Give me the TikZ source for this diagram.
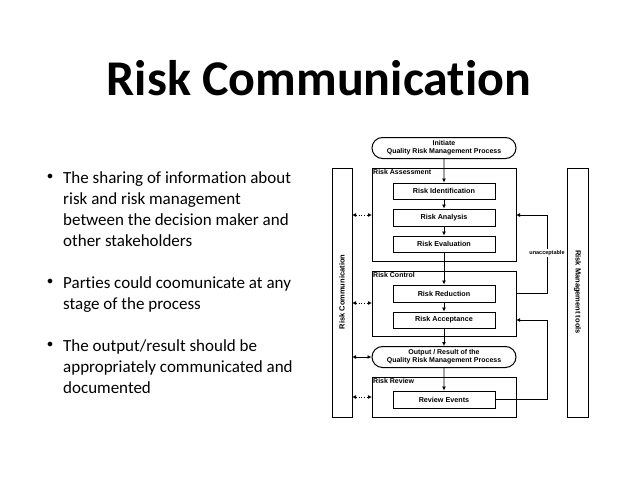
\documentclass[tikz,border=0pt]{standalone}
\usepackage{fontspec}
\setmainfont[Ligatures=NoCommon,RawFeature=-liga]{Carlito}
\newfontfamily\arialf{Liberation Sans}
\usetikzlibrary{arrows.meta,shapes.misc}
\begin{document}
\begin{tikzpicture}[x=1pt,y=-1pt,
  bx/.style={draw,line width=0.9pt},
  inbox/.style={draw,line width=0.9pt,minimum width=102pt,inner sep=0pt,font=\arialf\bfseries\fontsize{7.2}{8}\selectfont},
  term/.style={draw,line width=1pt,rounded rectangle,minimum width=144pt,minimum height=21pt,inner sep=0pt,align=center,font=\arialf\bfseries\fontsize{7}{8}\selectfont},
  lbl/.style={anchor=north west,inner sep=1pt,font=\arialf\bfseries\fontsize{7}{8}\selectfont},
  ar/.style={-{Latex[length=4pt,width=4pt]},line width=0.9pt},
  dar/.style={{Latex[length=4pt,width=4pt]}-{Latex[length=4pt,width=4pt]},line width=0.9pt,dotted},
  sar/.style={{Latex[length=4pt,width=4pt]}-{Latex[length=4pt,width=4pt]},line width=0.9pt},
  bul/.style={anchor=north west,align=left,font=\fontsize{17}{21}\selectfont,inner sep=0pt}]
\useasboundingbox (0,0) rectangle (638,479);
\node (title) at (319,78) {\fontsize{50}{56}\selectfont\bfseries Risk Communication};
\foreach \y/\t in {171/{The sharing of information about\\risk and risk management\\between the decision maker and\\other stakeholders},
  276/{Parties could coomunicate at any\\stage of the process},
  339/{The output/result should be\\appropriately communicated and\\documented}}{
  \node[anchor=north west,inner sep=0pt,font=\fontsize{12}{21}\selectfont] at (47,\y+3) {$\bullet$};
  \node[bul] at (63,\y) {\t};
}
% bars
\draw[bx] (332,168) rectangle (352,417);
\node[rotate=90,font=\arialf\bfseries\fontsize{7.5}{8}\selectfont] (rc) at (342,292) {Risk Communication};
\draw[bx] (567,168) rectangle (588,417);
\node[rotate=-90,font=\arialf\bfseries\fontsize{7.5}{8}\selectfont] (rm) at (577.5,292) {Risk Management tools};
% terminals
\node[term] (init) at (444,148) {Initiate\\Quality Risk Management Process};
\node[term] (out) at (444,357) {Output / Result of the\\Quality Risk Management Process};
% group boxes
\draw[bx] (372,168) rectangle (516,261);
\node[lbl] at (372,168) {Risk Assessment};
\draw[bx] (372,271) rectangle (516,336);
\node[lbl] at (372,271) {Risk Control};
\draw[bx] (372,377) rectangle (516,417);
\node[lbl] at (372,377) {Risk Review};
\coordinate (asr) at (516,215);
\coordinate (csr) at (516,320);
\coordinate (asl) at (372,215);
\coordinate (csl) at (372,303);
\coordinate (rsl) at (372,397);
\coordinate (bl1) at (352,215);
\coordinate (bl2) at (352,303);
\coordinate (bl3) at (352,357);
\coordinate (bl4) at (352,397);
% inner boxes
\node[inbox,minimum height=16pt] (ri) at (444,191) {Risk Identification};
\node[inbox,minimum height=17pt] (ra) at (444,217.5) {Risk Analysis};
\node[inbox,minimum height=16pt] (re) at (444,244) {Risk Evaluation};
\node[inbox,minimum height=17pt] (rr) at (444,293.5) {Risk Reduction};
\node[inbox,minimum height=16pt] (rac) at (444,320) {Risk Acceptance};
\node[inbox,minimum height=17pt] (rev) at (444,399.5) {Review Events};
% flow
\draw[ar] (init) -- (ri);
\draw[ar] (ri) -- (ra);
\draw[ar] (ra) -- (re);
\draw[ar] (re) -- (rr);
\draw[ar] (rr) -- (rac);
\draw[ar] (rac) -- (out);
\draw[ar] (out) -- (rev);
% loops
\draw[ar] (516,293.5) -| (547,215) -- (asr);
\node[fill=white,inner sep=1pt,font=\arialf\bfseries\fontsize{5.5}{6}\selectfont] (un) at (547,253) {unacceptable};
\draw[ar] (rev.east) -| (547,320) -- (csr);
% comm arrows
\draw[dar] (bl1) -- (asl);
\draw[dar] (bl2) -- (csl);
\draw[sar] (bl3) -- (out.west);
\draw[dar] (bl4) -- (rsl);
\end{tikzpicture}
\end{document}
